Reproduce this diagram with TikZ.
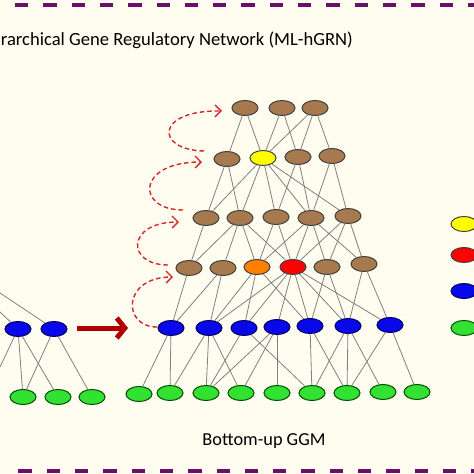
\documentclass[tikz,border=0pt]{standalone}
\usepackage{fontspec}
\setmainfont{Carlito}
\usetikzlibrary{shapes.geometric, arrows.meta, backgrounds}

\definecolor{bgcream}{RGB}{255,253,240}
\definecolor{framepurple}{RGB}{106,16,106}
\definecolor{genebrown}{RGB}{166,122,78}
\definecolor{geneyellow}{RGB}{255,255,0}
\definecolor{geneorange}{RGB}{255,128,0}
\definecolor{genered}{RGB}{255,0,0}
\definecolor{geneblue}{RGB}{8,8,235}
\definecolor{genegreen}{RGB}{50,225,50}
\definecolor{arrowred}{RGB}{175,0,0}
\definecolor{hopred}{RGB}{212,40,40}

\tikzset{
  gene/.style={ellipse, draw=black!75, line width=1pt, minimum width=26pt, minimum height=15pt, inner sep=0pt},
  tf/.style={gene, draw=blue!35!black},
  leaf/.style={gene, draw=green!30!black},
  edge/.style={draw=black!50, line width=0.8pt},
  hop/.style={hopred, line width=1.4pt, dash pattern=on 4.5pt off 3pt, -{Straight Barb[length=6pt,width=12pt]}},
  frameline/.style={framepurple, line width=4pt, dash pattern=on 13.3pt off 15pt},
  label/.style={font=\fontsize{18.3}{22}\selectfont, inner sep=0pt}
}

\begin{document}
\begin{tikzpicture}[x=1pt, y=-1pt]
  \useasboundingbox (0,0) rectangle (474,474);
  \clip (0,0) rectangle (474,474);
  \begin{scope}[on background layer]
    \fill[bgcream] (0,0) rectangle (474,474);
  \end{scope}

  % dashed frame lines
  \draw[frameline] (15,5) -- (480,5);
  \draw[frameline] (18.4,471) -- (480,471);

  \node[label, font=\fontsize{18.6}{22}\selectfont, anchor=base east] (title) at (353,45) {rarchical Gene Regulatory Network (ML-hGRN)};
  \node[label, anchor=base] (caption) at (264,445) {Bottom-up GGM};

  % hierarchical layers
  \foreach \n/\x/\y in {a1/245/108, a2/282/108, a3/315/108}
    \node[gene, fill=genebrown] (\n) at (\x,\y) {};
  \foreach \n/\x/\y/\c in {b1/227/159/genebrown, b2/263/158/geneyellow, b3/298/157/genebrown, b4/332/156/genebrown}
    \node[gene, fill=\c] (\n) at (\x,\y) {};
  \foreach \n/\x/\y in {c1/206/218, c2/240/218, c3/276/217, c4/311/218, c5/348/216}
    \node[gene, fill=genebrown] (\n) at (\x,\y) {};
  \foreach \n/\x/\y/\c in {d1/189/268/genebrown, d2/223/268/genebrown, d3/257/267/geneorange,
      d4/293/267/genered, d5/327/267/genebrown, d6/364/264/genebrown}
    \node[gene, fill=\c] (\n) at (\x,\y) {};
  \foreach \n/\x/\y in {e1/171/328, e2/209/328, e3/244/328, e4/277/327, e5/310/326, e6/348/326, e7/390/325}
    \node[tf, fill=geneblue] (\n) at (\x,\y) {};
  \foreach \n/\x/\y in {f1/139/394, f2/170/393, f3/206/393, f4/241/393, f5/277/393,
      f6/312/393, f7/347/393, f8/383/392, f9/417/392}
    \node[leaf, fill=genegreen] (\n) at (\x,\y) {};

  % two-layer network on the left
  \foreach \n/\x/\y in {le1/18/329, le2/54/329}
    \node[tf, fill=geneblue] (\n) at (\x,\y) {};
  \foreach \n/\x/\y in {lf1/23/397, lf2/58/397, lf3/92/397}
    \node[leaf, fill=genegreen] (\n) at (\x,\y) {};
  \coordinate (offA) at (0,293);
  \coordinate (offB) at (0,312);
  \coordinate (offC) at (0,367);

  % legend (cut at the right edge)
  \node[gene, fill=geneyellow] (keyY) at (464,224) {};
  \node[gene, fill=genered] (keyR) at (464,255) {};
  \node[tf, fill=geneblue] (keyB) at (464,291) {};
  \node[leaf, fill=genegreen] (keyG) at (464,328) {};

  \begin{scope}[on background layer]
    \foreach \u/\v in {a1/b1, a1/b2, a2/b2, a2/b3, a3/b2, a3/b3, a3/b4,
        b1/c1, b1/c2, b2/c1, b2/c2, b2/c3, b2/c4, b2/c5, b3/c3, b3/c4, b4/c4, b4/c5,
        c1/d1, c2/d1, c2/d2, c2/d3, c2/d4, c3/d3, c3/d4, c4/d3, c4/d4, c4/d5, c4/d6,
        c5/d4, c5/d5, c5/d6,
        d1/e1, d2/e1, d2/e2, d3/e2, d3/e3, d3/e5, d4/e2, d4/e3, d4/e4, d4/e5, d4/e6, d4/e7,
        d5/e5, d5/e6, d6/e6, d6/e7,
        e1/f1, e1/f2, e2/f2, e2/f3, e2/f4, e3/f3, e3/f6, e4/f3, e4/f4, e4/f5,
        e5/f6, e5/f7, e6/f6, e6/f7, e6/f8, e7/f7, e7/f9,
        offA/le2, offB/le1, le1/offC, le1/lf1, le1/lf2, le2/lf1, le2/lf3}
      \draw[edge] (\u) -- (\v);
  \end{scope}

  % big arrow between the two networks
  \coordinate (arrS) at (77,328);
  \coordinate (arrE) at (128,328);
  \draw[arrowred, line width=5pt, -{Straight Barb[length=8pt,width=20pt]}] (arrS) -- (arrE);

  % dashed hops between layers
  \coordinate (h1s) at (204,151); \coordinate (h1e) at (222,111);
  \coordinate (h2s) at (183,210); \coordinate (h2e) at (202,162);
  \coordinate (h3s) at (168,265); \coordinate (h3e) at (179,222);
  \coordinate (h4s) at (157,327); \coordinate (h4e) at (173,277);
  \draw[hop] (h1s) .. controls (155,150) and (155,110) .. (h1e);
  \draw[hop] (h2s) .. controls (136,210) and (136,162) .. (h2e);
  \draw[hop] (h3s) .. controls (126,265) and (126,222) .. (h3e);
  \draw[hop] (h4s) .. controls (122,327) and (122,277) .. (h4e);
\end{tikzpicture}
\end{document}
